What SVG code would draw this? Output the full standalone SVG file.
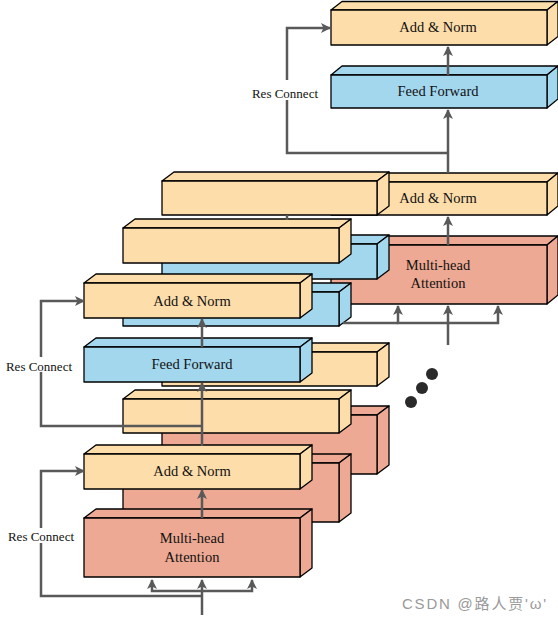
<svg xmlns="http://www.w3.org/2000/svg" width="558" height="623" viewBox="0 0 558 623">
<defs>
<style>
.an{fill:#FDDDAA;stroke:#000;stroke-width:1.3;stroke-linejoin:round}
.ff{fill:#A3D7EE;stroke:#000;stroke-width:1.3;stroke-linejoin:round}
.mh{fill:#EDA993;stroke:#000;stroke-width:1.3;stroke-linejoin:round}
.lbl{font-family:"Liberation Serif","Times New Roman",serif;font-size:14.5px;fill:#111;text-anchor:middle}
.res{font-family:"Liberation Serif","Times New Roman",serif;font-size:13px;fill:#111;text-anchor:middle}
.ln{fill:none;stroke:#595959;stroke-width:2.5}
.ar{fill:none;stroke:#595959;stroke-width:2.5;marker-end:url(#ah)}
.wm{font-family:"Liberation Sans","Noto Sans CJK SC",sans-serif;font-size:15px;fill:#9a9a9a}
</style>
<marker id="ah" markerWidth="10" markerHeight="10" refX="9" refY="5" orient="auto" markerUnits="userSpaceOnUse">
<path d="M0,0 L10,5 L0,10 L2.5,5 z" fill="#595959"/>
</marker>
</defs>
<rect width="558" height="623" fill="#fff"/>

<!-- Right stack (back) -->
<g id="r-mha">
<path class="mh" d="M331,245 L342,236 L558,236 L547,245 Z"/>
<path class="mh" d="M547,245 L558,236 L558,295 L547,304 Z"/>
<rect class="mh" x="331" y="245" width="216" height="59"/>
<text class="lbl" x="438" y="270">Multi-head</text>
<text class="lbl" x="438" y="288">Attention</text>
</g>
<g id="r-an1">
<path class="an" d="M331,182 L342,173 L558,173 L547,182 Z"/>
<path class="an" d="M547,182 L558,173 L558,206 L547,215 Z"/>
<rect class="an" x="331" y="182" width="216" height="33"/>
<text class="lbl" x="438" y="203">Add &amp; Norm</text>
</g>
<g id="r-ff">
<path class="ff" d="M331,75 L342,66 L558,66 L547,75 Z"/>
<path class="ff" d="M547,75 L558,66 L558,99 L547,108 Z"/>
<rect class="ff" x="331" y="75" width="216" height="33"/>
<text class="lbl" x="438" y="96">Feed Forward</text>
</g>
<g id="r-an2">
<path class="an" d="M331,10 L342,1.5 L558,1.5 L547,10 Z"/>
<path class="an" d="M547,10 L558,1.5 L558,36.5 L547,45 Z"/>
<rect class="an" x="331" y="10" width="216" height="35"/>
<text class="lbl" x="438" y="32">Add &amp; Norm</text>
</g>

<!-- Left stack, layer 2 (back copy) -->
<g id="l2-mha">
<path class="mh" d="M162,415 L174,406 L389,406 L377,415 Z"/>
<path class="mh" d="M377,415 L389,406 L389,465 L377,474 Z"/>
<rect class="mh" x="162" y="415" width="215" height="59"/>
</g>
<g id="l2-an1">
<path class="an" d="M162,352 L174,343 L389,343 L377,352 Z"/>
<path class="an" d="M377,352 L389,343 L389,377 L377,386 Z"/>
<rect class="an" x="162" y="352" width="215" height="34"/>
</g>
<g id="l2-ff">
<path class="ff" d="M162,244 L174,235 L389,235 L377,244 Z"/>
<path class="ff" d="M377,244 L389,235 L389,270 L377,279 Z"/>
<rect class="ff" x="162" y="244" width="215" height="35"/>
</g>
<g id="l2-an2">
<path class="an" d="M162,181 L174,172 L389,172 L377,181 Z"/>
<path class="an" d="M377,181 L389,172 L389,206 L377,215 Z"/>
<rect class="an" x="162" y="181" width="215" height="34"/>
</g>

<!-- Left stack, layer 1 -->
<g id="l1-mha">
<path class="mh" d="M123,463 L135,454 L351,454 L339,463 Z"/>
<path class="mh" d="M339,463 L351,454 L351,513 L339,522 Z"/>
<rect class="mh" x="123" y="463" width="216" height="59"/>
</g>
<g id="l1-an1">
<path class="an" d="M123,399 L135,390 L351,390 L339,399 Z"/>
<path class="an" d="M339,399 L351,390 L351,424 L339,433 Z"/>
<rect class="an" x="123" y="399" width="216" height="34"/>
</g>
<g id="l1-ff">
<path class="ff" d="M123,292 L135,283 L351,283 L339,292 Z"/>
<path class="ff" d="M339,292 L351,283 L351,317 L339,326 Z"/>
<rect class="ff" x="123" y="292" width="216" height="34"/>
</g>
<g id="l1-an2">
<path class="an" d="M123,228 L135,219 L351,219 L339,228 Z"/>
<path class="an" d="M339,228 L351,219 L351,254 L339,263 Z"/>
<rect class="an" x="123" y="228" width="216" height="35"/>
</g>

<!-- Left stack, layer 0 (front) -->
<g id="l0-mha">
<path class="mh" d="M84,518 L96,509 L312,509 L300,518 Z"/>
<path class="mh" d="M300,518 L312,509 L312,568 L300,577 Z"/>
<rect class="mh" x="84" y="518" width="216" height="59"/>
<text class="lbl" x="192" y="543">Multi-head</text>
<text class="lbl" x="192" y="562">Attention</text>
</g>
<g id="l0-an1">
<path class="an" d="M84,454 L96,445 L312,445 L300,454 Z"/>
<path class="an" d="M300,454 L312,445 L312,480 L300,489 Z"/>
<rect class="an" x="84" y="454" width="216" height="35"/>
<text class="lbl" x="192" y="476">Add &amp; Norm</text>
</g>
<g id="l0-ff">
<path class="ff" d="M84,347 L96,338 L312,338 L300,347 Z"/>
<path class="ff" d="M300,347 L312,338 L312,373 L300,382 Z"/>
<rect class="ff" x="84" y="347" width="216" height="35"/>
<text class="lbl" x="192" y="369">Feed Forward</text>
</g>
<g id="l0-an2">
<path class="an" d="M84,283 L96,274 L312,274 L300,283 Z"/>
<path class="an" d="M300,283 L312,274 L312,309 L300,318 Z"/>
<rect class="an" x="84" y="283" width="216" height="35"/>
<text class="lbl" x="192" y="305.5">Add &amp; Norm</text>
</g>

<!-- Connectors -->
<g id="connectors">
<!-- left stack -->
<path class="ar" d="M202,615 V580"/>
<path class="ar" d="M202,591 H152 V580"/>
<path class="ar" d="M202,591 H252 V580"/>
<path class="ln" d="M202,596 H41 V543"/>
<path class="ar" d="M41,528 V471 H84"/>
<path class="ar" d="M202,518 V490"/>
<path class="ar" d="M202,446 V383"/>
<path class="ln" d="M202,426 H41 V372"/>
<path class="ar" d="M41,357 V301 H84"/>
<path class="ar" d="M202,347 V319"/>
<!-- right stack -->
<path class="ar" d="M448,345 V306"/>
<path class="ar" d="M448,323 H398 V306"/>
<path class="ar" d="M448,323 H498 V306"/>
<path class="ln" d="M343,323 H398"/>
<path class="ln" d="M287,215 V220"/>
<path class="ar" d="M448,245 V217"/>
<path class="ar" d="M448,173 V110"/>
<path class="ln" d="M448,153 H287 V100"/>
<path class="ar" d="M287,80 V28 H330"/>
<path class="ar" d="M448,75 V47"/>
</g>

<g id="labels">
<text class="res" x="285" y="97.5">Res Connect</text>
<text class="res" x="39" y="370.5">Res Connect</text>
<text class="res" x="41" y="540.5">Res Connect</text>
</g>

<g id="ellipsis" fill="#2a2a2a">
<circle cx="432" cy="374" r="6"/>
<circle cx="422" cy="388" r="6"/>
<circle cx="411" cy="402" r="6"/>
</g>

<text class="wm" x="402" y="609" textLength="144" lengthAdjust="spacing">CSDN @路人贾'ω'</text>
</svg>
